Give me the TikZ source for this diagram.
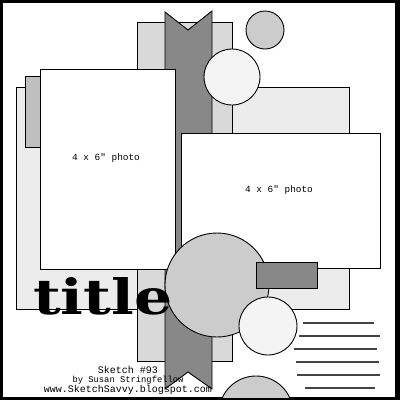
\documentclass[tikz,border=0pt]{standalone}
\usepackage{fontspec}
\setmonofont{Liberation Mono}
\newfontfamily\titlefont{DejaVu Serif}
\definecolor{paleg}{HTML}{ECECEC}
\definecolor{lightg}{HTML}{D9D9D9}
\definecolor{midg}{HTML}{BFBFBF}
\definecolor{darkg}{HTML}{888888}
\definecolor{circg}{HTML}{CCCCCC}
\definecolor{whiteg}{HTML}{F4F4F4}
\definecolor{lineg}{HTML}{444444}
\tikzset{
  shp/.style={draw=black, line width=0.9pt},
  photo/.style={shp, fill=white, line width=1.1pt},
  rule/.style={draw=lineg, line width=1.6pt},
  lbl/.style={font=\ttfamily\fontsize{9.4}{10}\selectfont, inner sep=0pt},
  credit/.style={font=\ttfamily\fontsize{10}{11}\selectfont, inner sep=0pt}
}
\begin{document}
\begin{tikzpicture}[x=1pt,y=-1pt]
\useasboundingbox (0,0) rectangle (400,400);
\fill[black] (0,0) rectangle (400,400);
\fill[white] (3,3) rectangle (395,397);
\begin{scope}
\clip (3,3) rectangle (395,397);
% background papers
\filldraw[shp, fill=paleg] (16,87) rectangle (150,309);
\filldraw[shp, fill=midg] (25,76) rectangle (60,147);
\filldraw[shp, fill=paleg] (220,87) rectangle (349,309);
\filldraw[shp, fill=lightg] (137,22) rectangle (232,361);
% ribbon
\filldraw[shp, fill=darkg] (165,12) -- (188,30) -- (212,11) -- (212,389) -- (188,372) -- (165,389) -- cycle;
% top circles
\filldraw[shp, fill=circg] (265,30) circle (19);
\filldraw[shp, fill=whiteg] (232,77) circle (28);
% photos
\node[photo, minimum width=135pt, minimum height=200pt, inner sep=0pt, anchor=north west] (photoL) at (40,69) {};
\node[photo, minimum width=199pt, minimum height=135pt, inner sep=0pt, anchor=north west] (photoR) at (181,133) {};
\node[lbl] (tL) at (106,158) {4 x 6" photo};
\node[lbl] (tR) at (279,190) {4 x 6" photo};
% big circle and embellishments
\filldraw[shp, fill=circg] (217,285) circle (52);
\filldraw[shp, fill=darkg] (256,262) rectangle (317,288);
\filldraw[shp, fill=whiteg] (268,326) circle (29);
\filldraw[shp, fill=circg] (256,413) circle (37);
% title
\node[inner sep=0pt, anchor=south west] (title) at (33,315)
  {\resizebox{139pt}{37pt}{\titlefont\bfseries title}};
% journaling lines
\draw[rule] (303,323) -- (374,323);
\draw[rule] (299,336) -- (380,336);
\draw[rule] (294,349) -- (377,349);
\draw[rule] (296,362) -- (379,362);
\draw[rule] (297,375) -- (380,375);
\draw[rule] (305,388) -- (375,388);
% credits
\node[credit] (c1) at (128,370) {Sketch \#93};
\node[credit, font=\ttfamily\fontsize{8.8}{10}\selectfont] (c2) at (128,380) {by Susan Stringfellow};
\node[credit] (c3) at (128,390) {www.SketchSavvy.blogspot.com};
\end{scope}
\end{tikzpicture}
\end{document}
